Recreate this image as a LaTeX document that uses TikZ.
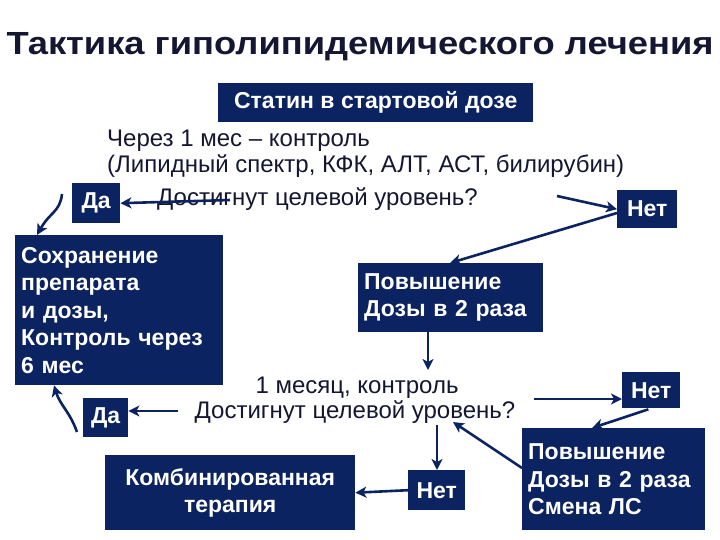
\documentclass[tikz,border=0pt]{standalone}
\usepackage{fontspec}
\setmainfont{Liberation Sans}
\usetikzlibrary{arrows.meta}
\definecolor{navy}{RGB}{12,35,97}
\definecolor{ink}{RGB}{20,22,50}
\begin{document}
\begin{tikzpicture}[x=1pt,y=-1pt,
  box/.style={fill=navy,text=white,font=\bfseries\fontsize{23}{27.5}\selectfont,inner sep=0pt,anchor=north west},
  plain/.style={text=ink,font=\fontsize{24}{25}\selectfont,inner sep=0pt},
  arr/.style={draw=navy,line width=2.6pt,-{Stealth[length=11pt,width=11pt,inset=3pt]}}]
\useasboundingbox (0,0) rectangle (720,540);
% title
\node[text=ink,font=\bfseries\fontsize{32}{34}\selectfont,inner sep=0pt,anchor=base] (title) at (360,55) {\scalebox{1.135}[1]{Тактика гиполипидемического лечения}};
% boxes
\node[box,minimum width=315pt,minimum height=39pt,align=center] (statin) at (218,83) {Статин в стартовой дозе};
\node[box,minimum width=48pt,minimum height=40pt,align=center] (da1) at (72,183) {Да};
\node[box,minimum width=60pt,minimum height=38pt,align=center] (net1) at (617,190) {Нет};
\node[box,minimum width=208pt,minimum height=150pt,text width=196pt,inner xsep=6pt,align=left] (keep) at (15,235) {Сохранение\\препарата\\и дозы,\\Контроль через\\6 мес};
\node[box,minimum width=185pt,minimum height=69pt,text width=173pt,inner xsep=6pt,align=left] (up1) at (358,263) {Повышение\\Дозы в 2 раза};
\node[box,minimum width=45pt,minimum height=39pt,align=center] (da2) at (83,398) {Да};
\node[box,minimum width=58pt,minimum height=36pt,align=center] (net2) at (622,372) {Нет};
\node[box,minimum width=183pt,minimum height=102pt,text width=171pt,inner xsep=6pt,align=left] (up2) at (522,428) {Повышение\\Дозы в 2 раза\\Смена ЛС};
\node[box,minimum width=57pt,minimum height=40pt,align=center] (net3) at (408,470) {Нет};
\node[box,minimum width=250pt,minimum height=75pt,align=center] (combo) at (105,455) {Комбинированная\\терапия};
% plain texts
\node[plain,anchor=base west] (l1) at (107,147) {Через 1 мес – контроль};
\node[plain,anchor=base west] (l2) at (107,173) {(Липидный спектр, КФК, АЛТ, АСТ, билирубин)};
\node[plain,anchor=base west] (l3) at (157,206) {Достигнут целевой уровень?};
\node[plain,anchor=base] (m1) at (357,393) {1 месяц, контроль};
\node[plain,anchor=base] (m2) at (355,418) {Достигнут целевой уровень?};
% connectors
\coordinate (a1) at (230,200);
\draw[arr] (a1) -- (da1.east);
\coordinate (c1s) at (62,194);
\draw[arr] (c1s) .. controls (60,212) and (50,212) .. (keep.north west -| 37,0);
\coordinate (a3) at (557,196);
\draw[arr] (a3) -- (net1.west);
\draw[arr] (net1.west |- 0,213) -- (up1.north west -| 450,0);
\coordinate (a5) at (428,370);
\draw[arr] (up1.south west -| 428,0) -- (a5);
\coordinate (a6) at (178,411);
\draw[arr] (a6) -- (da2.east |- a6);
\coordinate (a7) at (534,399);
\draw[arr] (a7) -- (net2.west |- a7);
\draw[arr,shorten <=3pt] (net2.south) -- (up2.north west -| 592,0);
\coordinate (a9) at (453,422);
\draw[arr] (up2.west |- 0,468) -- (a9);
\coordinate (a10) at (437,425);
\draw[arr] (a10) -- (net3.north -| a10);
\draw[arr] (net3.west) -- (combo.east);
\coordinate (c2s) at (77,432);
\draw[arr] (c2s) .. controls (70,412) and (60,405) .. (keep.south west -| 54,0);
\end{tikzpicture}
\end{document}
